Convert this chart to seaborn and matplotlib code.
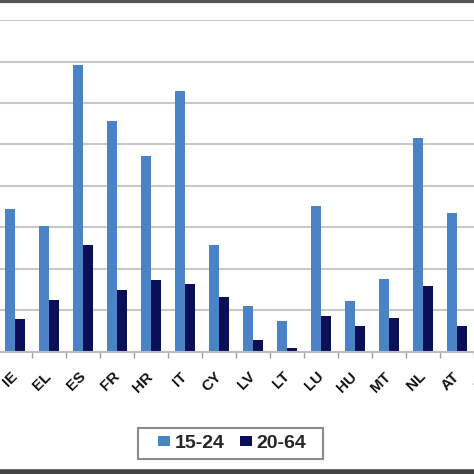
import matplotlib
matplotlib.use("Agg")
import matplotlib.pyplot as plt
import seaborn as sns
import pandas as pd
import numpy as np
from matplotlib.ticker import MultipleLocator, FixedLocator
from matplotlib.patches import Rectangle

countries = ["IE", "EL", "ES", "FR", "HR", "IT", "CY", "LV", "LT", "LU", "HU", "MT", "NL", "AT"]
axis_order = ["EE"] + countries + ["PL"]
v_15_24 = [17.2, 15.2, 34.6, 27.8, 23.6, 31.4, 12.9, 5.5, 3.7, 17.6, 6.1, 8.8, 25.8, 16.7]
v_20_64 = [4.0, 6.3, 12.9, 7.5, 8.7, 8.2, 6.6, 1.4, 0.5, 4.3, 3.1, 4.1, 8.0, 3.1]
series = ["15-24", "20-64"]

df = pd.DataFrame({
    "country": countries * 2,
    "value": v_15_24 + v_20_64,
    "group": [series[0]] * len(countries) + [series[1]] * len(countries),
})

sns.set_theme(style="white")
plt.rcParams["font.family"] = ["Liberation Sans", "DejaVu Sans"]

W = 474.0
fig = plt.figure(figsize=(4.74, 4.74), dpi=100)
# axes extends past the figure edges so the chart looks cropped
ax = fig.add_axes([-34 / W, 0.2574, 542 / W, 0.7004])

sns.barplot(data=df, x="country", y="value", hue="group", order=axis_order,
            hue_order=series, palette=["#4a84c6", "#0b0f58"], width=0.6,
            errorbar=None, ax=ax, linewidth=0, saturation=1)

ax.set_ylim(0, 40)
ax.yaxis.set_major_locator(MultipleLocator(5))
ax.grid(axis="y", color="#c8c8c8", linewidth=1.5)
ax.set_axisbelow(True)
ax.set_yticklabels([])
ax.tick_params(axis="y", length=0)

xmin = 1 - 15 / 34.0 - 1
ax.set_xlim(xmin, xmin + 542 / 34.0)
ax.set_xlabel("")
ax.set_ylabel("")
for s in ["top", "right", "left"]:
    ax.spines[s].set_visible(False)
ax.spines["bottom"].set_color("#bdbdbd")
ax.spines["bottom"].set_linewidth(1.5)

ax.xaxis.set_minor_locator(FixedLocator(np.arange(-0.5, len(axis_order), 1.0)))
ax.tick_params(axis="x", which="minor", length=4, color="#a0a0a0", width=1, direction="out", bottom=True)
ax.tick_params(axis="x", which="major", length=0, pad=16)
for lab in ax.get_xticklabels():
    lab.set_rotation(45)
    lab.set_ha("right")
    lab.set_va("center")
    lab.set_rotation_mode("anchor")
    lab.set_fontweight("bold")
    lab.set_fontsize(11)
    lab.set_color("#111111")

handles, labels = ax.get_legend_handles_labels()
if ax.legend_ is not None:
    ax.legend_.remove()
leg = fig.legend(handles, labels, loc="center", bbox_to_anchor=(232.5 / W, 1 - 443.5 / W), ncol=2,
                 frameon=False, prop={"weight": "bold", "size": 14},
                 handlelength=0.6, handleheight=0.4,
                 handletextpad=0.25, columnspacing=0.8, borderpad=0.3)
fig.add_artist(Rectangle((138 / W, 1 - 459 / W), 185 / W, 31 / W, transform=fig.transFigure,
                         facecolor="none", edgecolor="#8a8a8a", linewidth=1.5))

fig.add_artist(plt.Line2D([0, 1], [0.997, 0.997], transform=fig.transFigure, color="#555555", lw=3))
fig.add_artist(plt.Line2D([0, 1], [0.004, 0.004], transform=fig.transFigure, color="#444444", lw=4))

fig.savefig("out.png", dpi=100, facecolor="white")
